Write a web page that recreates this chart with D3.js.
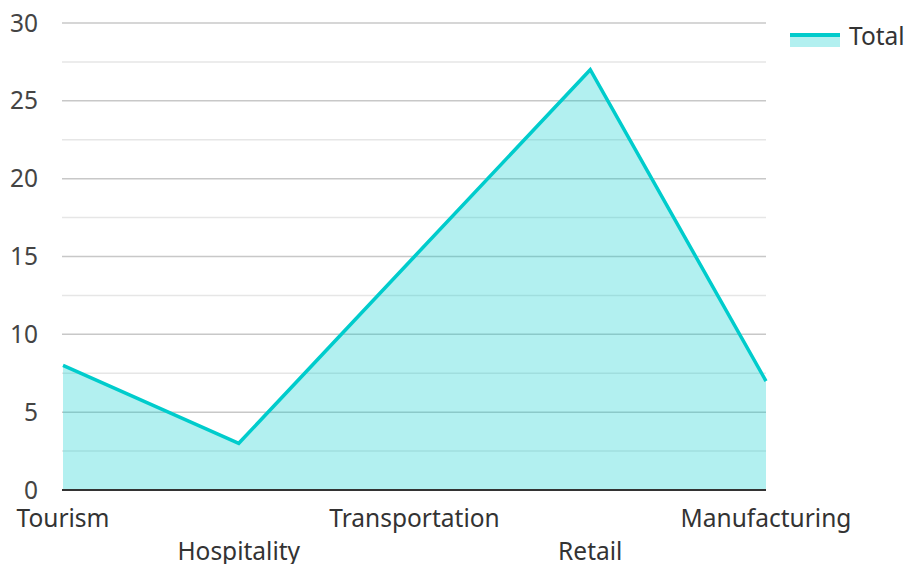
<!DOCTYPE html>
<html><head><meta charset="utf-8">
<script src="https://cdn.jsdelivr.net/npm/d3@7"></script>
<style>body{margin:0;background:#fff;} text{font-family:"Noto Sans","Open Sans",sans-serif;}</style>
</head><body>
<svg id="c" width="907" height="564"></svg>
<script>
const categories = ["Tourism","Hospitality","Transportation","Retail","Manufacturing"];
const totals = [8, 3, 15, 27, 7];
const yTicks = [0,5,10,15,20,25,30];
const minorTicks = [2.5,7.5,12.5,17.5,22.5,27.5];
const seriesName = "Total";

const svg = d3.select("#c");
const mLeft = 63, mRight = 766, mTop = 23, mBottom = 490;
const x = d3.scalePoint().domain(categories).range([mLeft, mRight]);
const y = d3.scaleLinear().domain([0,30]).range([mBottom, mTop]);
const data = categories.map((c,i)=>({c, v: totals[i]}));
const fs = 24.5;

// minor grid
svg.append("g").selectAll("line").data(minorTicks).join("line")
  .attr("x1", mLeft-1).attr("x2", mRight).attr("y1", d=>y(d)).attr("y2", d=>y(d))
  .attr("stroke", "#e6e6e6").attr("stroke-width", 1.5);
// major grid
svg.append("g").selectAll("line").data(yTicks.filter(d=>d>0)).join("line")
  .attr("x1", mLeft-1).attr("x2", mRight).attr("y1", d=>y(d)).attr("y2", d=>y(d))
  .attr("stroke", "#c8c8c8").attr("stroke-width", 1.5);

// area
svg.append("path").datum(data)
  .attr("d", d3.area().x(d=>x(d.c)).y0(y(0)).y1(d=>y(d.v)))
  .attr("fill", "#00cccc").attr("fill-opacity", 0.3);
svg.append("path").datum(data)
  .attr("d", d3.line().x(d=>x(d.c)).y(d=>y(d.v)))
  .attr("fill", "none").attr("stroke", "#00cccc").attr("stroke-width", 3.5).attr("stroke-linejoin","miter");

// baseline
svg.append("line").attr("x1", mLeft-1).attr("x2", mRight).attr("y1", y(0)).attr("y2", y(0))
  .attr("stroke", "#333").attr("stroke-width", 2);

// y labels
svg.append("g").selectAll("text").data(yTicks).join("text")
  .attr("x", 38).attr("y", d=>y(d)).attr("dy","0.35em").attr("text-anchor","end")
  .attr("font-size", fs).attr("fill", "#444").text(d=>d);

// x labels
svg.append("g").selectAll("text").data(categories).join("text")
  .attr("x", d=>x(d)).attr("y", (d,i)=> i%2===0 ? 527 : 560).attr("text-anchor","middle")
  .attr("font-size", fs).attr("fill", "#333").text(d=>d);

// legend
const lg = svg.append("g");
lg.append("rect").attr("x", 790).attr("y", 35).attr("width", 50).attr("height", 12)
  .attr("fill", "#00cccc").attr("fill-opacity", 0.3);
lg.append("line").attr("x1", 790).attr("x2", 840).attr("y1", 35).attr("y2", 35)
  .attr("stroke", "#00cccc").attr("stroke-width", 4);
lg.append("text").attr("x", 849).attr("y", 36).attr("dy","0.35em")
  .attr("font-size", fs).attr("fill", "#333").text(seriesName);
</script>
</body></html>
